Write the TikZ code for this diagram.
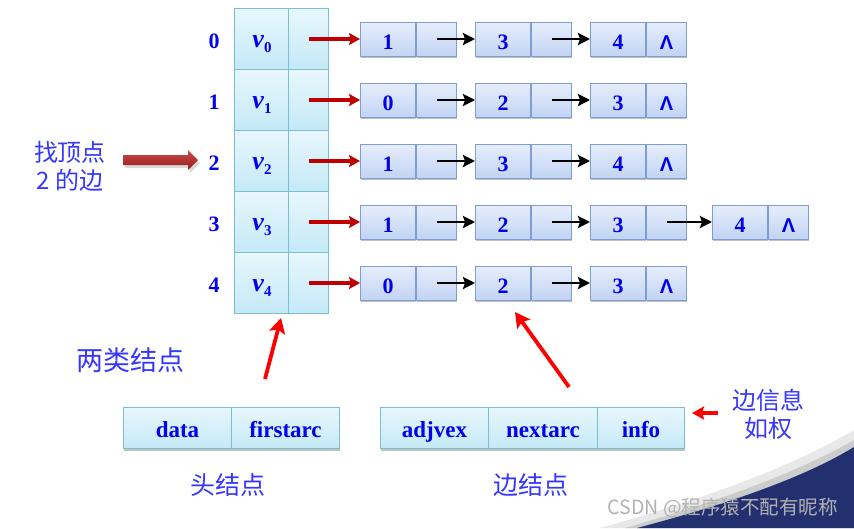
\documentclass[tikz,border=0pt]{standalone}
\usepackage{fontspec}
\setmainfont{Liberation Serif}
\newfontfamily\cjk{Noto Sans CJK SC}
\newfontfamily\lsans{Liberation Sans}
\usetikzlibrary{arrows.meta,shadows,calc}
\definecolor{txtblue}{HTML}{0000EE}
\definecolor{cjkblue}{HTML}{3636FF}
\definecolor{ptrred}{HTML}{C00000}
\definecolor{etop}{HTML}{E6EEFB}
\definecolor{ebot}{HTML}{C2D4F4}
\definecolor{eborder}{HTML}{7E9ED3}
\definecolor{vtop}{HTML}{E8F7FD}
\definecolor{vbot}{HTML}{C4E9F7}
\definecolor{vborder}{HTML}{79BFD0}
\definecolor{navy}{HTML}{23306F}
\definecolor{arrtop}{HTML}{C85050}
\definecolor{arrmid}{HTML}{B23232}
\definecolor{arrbot}{HTML}{8E2020}
\tikzset{
  ecell/.style={draw=eborder, line width=1pt, top color=etop, bottom color=ebot,
    minimum height=34pt, inner sep=0pt, anchor=west, text=txtblue,
    text height=20pt, text depth=0pt,
    font=\fontsize{22}{22}\selectfont\bfseries,
    drop shadow={shadow xshift=0.6pt, shadow yshift=-2pt, opacity=0.25, fill=black}},
  vcell/.style={draw=vborder, line width=1pt, top color=vtop, bottom color=vbot,
    minimum height=61pt, inner sep=0pt, anchor=north west, text=txtblue},
  vtext/.style={text=txtblue, inner sep=0pt, anchor=base},
  hcell/.style={draw=vborder, line width=1pt, top color=vtop, bottom color=vbot,
    minimum height=41pt, inner sep=0pt, anchor=north west, text=txtblue,
    text height=20pt, text depth=1pt,
    font=\fontsize{23}{23}\selectfont\bfseries,
    drop shadow={shadow xshift=0.6pt, shadow yshift=-2pt, opacity=0.25, fill=black}},
  idx/.style={text=txtblue, font=\fontsize{22}{22}\selectfont\bfseries, inner sep=0pt},
  cjklabel/.style={text=cjkblue, font=\cjk\fontsize{24}{28}\selectfont, inner sep=0pt, align=center},
  redptr/.style={draw=ptrred, line width=3.1pt, -{Stealth[length=11pt,width=12pt,inset=2pt]}},
  blkptr/.style={draw=black, line width=2.8pt, -{Stealth[length=12pt,width=12pt,inset=2pt]}},
  bigred/.style={draw=red, line width=3.8pt, -{Stealth[length=15pt,width=16pt,inset=3pt]}},
}
\newcommand{\vlab}[1]{{\fontsize{26}{26}\selectfont\bfseries\itshape v}\raisebox{-5pt}{\fontsize{15}{15}\selectfont\bfseries #1}}
\newcommand{\nilsym}{{\lsans\bfseries\fontsize{20}{20}\selectfont Λ}}
\begin{document}
\begin{tikzpicture}[x=1pt,y=-1pt]
\useasboundingbox (0,0) rectangle (854,528);
\fill[white] (0,0) rectangle (854,528);
% background swoosh
\fill[gray!18] (600,528) .. controls (700,500) and (790,468) .. (854,430) -- (854,528) -- cycle;
\fill[gray!40] (625,528) .. controls (712,503) and (795,474) .. (854,440) -- (854,528) -- cycle;
\fill[navy] (637,528) .. controls (720,506) and (800,480) .. (854,447) -- (854,528) -- cycle;
% vertex table
\foreach \i in {0,...,4}{
  \node[vcell, minimum width=54pt] (v\i) at (234,{8+61*\i}) {};
  \node[vcell, minimum width=40pt] (p\i) at (288,{8+61*\i}) {};
  \node[vtext] (vl\i) at (262,{47+61*\i}) {\vlab{\i}};
  \node[idx] (n\i) at (214,{41+61*\i}) {\i};
}
% edge lists
\foreach \r/\n/\list in {0/3/{1,3,4},1/3/{0,2,3},2/3/{1,3,4},3/4/{1,2,3,4},4/3/{0,2,3}}{
  \foreach \val [count=\k] in \list {
    \pgfmathsetmacro{\xx}{360+115*(\k-1)+7*(\k>3)}
    \node[ecell, minimum width=55pt] (e\r-\k a) at (\xx,{39+61*\r}) {\val};
    \node[ecell, minimum width=40pt] (e\r-\k b) at (e\r-\k a.east) {\ifnum\k=\n\nilsym\fi};
  }
  \draw[redptr] (p\r.center) -- (e\r-1a.west);
  \foreach \k in {2,...,\n}{
    \pgfmathtruncatemacro{\km}{\k-1}
    \draw[blkptr] (e\r-\km b.center) -- (e\r-\k a.west);
  }
}
% left label and big arrow
\node[cjklabel] (find) at (70,166) {找顶点\\2 的边};
\fill[black, opacity=0.15] (125,158) -- (190,158) -- (190,153) -- (200,163) -- (190,173) -- (190,168) -- (125,168) -- cycle;
\shade[top color=arrtop, bottom color=arrbot, middle color=arrmid]
  (123,155) -- (188,155) -- (188,150) -- (198,160) -- (188,170) -- (188,165) -- (123,165) -- cycle;
% node types
\node[cjklabel, font=\cjk\fontsize{27}{27}\selectfont] (two) at (130,360) {两类结点};
\node[hcell, minimum width=108pt] (hd) at (123,407) {data};
\node[hcell, minimum width=108pt] (hf) at (231,407) {firstarc};
\node[cjklabel, font=\cjk\fontsize{25}{25}\selectfont] (hlab) at (228,485) {头结点};
\node[hcell, minimum width=108pt] (ba) at (380,407) {adjvex};
\node[hcell, minimum width=109pt] (bn) at (488,407) {nextarc};
\node[hcell, minimum width=87pt] (bi) at (597,407) {info};
\node[cjklabel, font=\cjk\fontsize{25}{25}\selectfont] (elab) at (531,485) {边结点};
\node[cjklabel] (info) at (768,414) {边信息\\如权};
% red pointers
\coordinate (s1) at (265,379);
\coordinate (t1) at (281,318);
\coordinate (s2) at (569,387);
\coordinate (t2) at (515,312);
\coordinate (s3) at (718,413);
\coordinate (t3) at (692,413);
\draw[bigred] (s1) -- (t1);
\draw[bigred] (s2) -- (t2);
\draw[draw=red, line width=3.2pt, -{Stealth[length=12pt,width=13pt,inset=2pt]}] (s3) -- (t3);
% watermark
\node[anchor=east, text=gray!60, font=\cjk\fontsize{19.5}{19.5}\selectfont, inner sep=0pt] (wm) at (838,508) {CSDN @程序猿不配有昵称};
\end{tikzpicture}
\end{document}
